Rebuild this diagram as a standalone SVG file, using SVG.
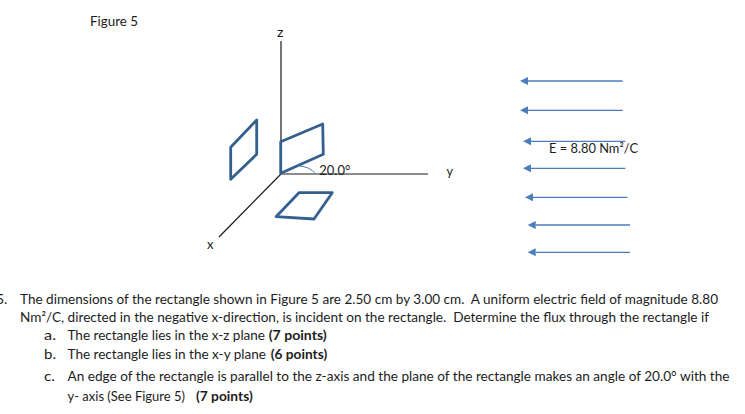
<svg xmlns="http://www.w3.org/2000/svg" width="745" height="414" viewBox="0 0 745 414">
<style>
text{font-family:"Lato","Liberation Sans",sans-serif;font-size:14px;fill:#1c1c1c;white-space:pre}
.b{font-weight:700}
.axis{stroke:#1a1a1a;stroke-width:1.2;fill:none}
.rect{stroke:#34608f;stroke-width:2.8;fill:none;stroke-linejoin:round}
.field{stroke:#4a7ebb;stroke-width:1.3;fill:none}
.head{fill:#4a7ebb;stroke:none}
</style>
<rect width="745" height="414" fill="#fff"/>
<g id="figure-label"><text x="90" y="26" textLength="48" lengthAdjust="spacingAndGlyphs">Figure 5</text></g>
<g id="axes">
<path class="axis" d="M281 41V174H428M281 174L219 237"/>
<text x="277" y="37" textLength="6.500" lengthAdjust="spacingAndGlyphs">z</text>
<text x="446.500" y="176" textLength="6.500" lengthAdjust="spacingAndGlyphs">y</text>
<text x="207" y="249" textLength="6.500" lengthAdjust="spacingAndGlyphs">x</text>
</g>
<g id="rectangle-xz"><path class="rect" d="M230.700 147.300L256.700 120V154.300L230.700 179.300Z"/></g>
<g id="rectangle-angled"><path class="rect" d="M280.700 141.700L322.700 124L323.300 154.300L280.700 173.300Z"/></g>
<g id="rectangle-xy"><path class="rect" d="M299 192.700H332.300L314 219L276 216.700Z"/></g>
<g id="angle">
<path d="M298 165.700Q311 167 315 173.500" fill="none" stroke="#4a7ebb" stroke-width="1"/>
<text x="319.300" y="174.500" textLength="31" lengthAdjust="spacingAndGlyphs">20.0°</text>
</g>
<g id="field-arrows">
<path class="field" d="M622.700 81H528"/><path class="head" d="M520 81L528 77V85Z"/>
<path class="field" d="M622.700 110.300H528"/><path class="head" d="M520 110.300L528 106.300V114.300Z"/>
<path class="field" d="M625.300 141.300H531"/><path class="head" d="M523 141.300L531 137.300V145.300Z"/>
<path class="field" d="M625.300 168.300H531"/><path class="head" d="M523 168.300L531 164.300V172.300Z"/>
<path class="field" d="M627.300 197.300H533"/><path class="head" d="M525 197.300L533 193.300V201.300Z"/>
<path class="field" d="M630 225H535.700"/><path class="head" d="M527.700 225L535.700 221V229Z"/>
<path class="field" d="M630 252.300H535.700"/><path class="head" d="M527.700 252.300L535.700 248.300V256.300Z"/>
</g>
<g id="field-label"><text x="549" y="153" textLength="89" lengthAdjust="spacingAndGlyphs">E = 8.80 Nm²/C</text></g>
<g id="question">
<text x="-4" y="304">5.</text>
<text x="20" y="304" textLength="698" lengthAdjust="spacingAndGlyphs">The dimensions of the rectangle shown in Figure 5 are 2.50 cm by 3.00 cm.  A uniform electric field of magnitude 8.80</text>
<text x="20" y="322" textLength="689" lengthAdjust="spacingAndGlyphs">Nm²/C, directed in the negative x-direction, is incident on the rectangle.  Determine the flux through the rectangle if</text>
<text x="44" y="340" textLength="12" lengthAdjust="spacingAndGlyphs">a.</text>
<text x="67.500" y="340" textLength="197.500" lengthAdjust="spacingAndGlyphs">The rectangle lies in the x-z plane</text>
<text class="b" x="268.700" y="340" textLength="58" lengthAdjust="spacingAndGlyphs">(7 points)</text>
<text x="44" y="359" textLength="12" lengthAdjust="spacingAndGlyphs">b.</text>
<text x="67.500" y="359" textLength="198.500" lengthAdjust="spacingAndGlyphs">The rectangle lies in the x-y plane</text>
<text class="b" x="270.700" y="359" textLength="56.500" lengthAdjust="spacingAndGlyphs">(6 points)</text>
<text x="44" y="381" textLength="11" lengthAdjust="spacingAndGlyphs">c.</text>
<text x="67.500" y="381" textLength="662" lengthAdjust="spacingAndGlyphs">An edge of the rectangle is parallel to the z-axis and the plane of the rectangle makes an angle of 20.0° with the</text>
<text x="67.500" y="401" textLength="117.500" lengthAdjust="spacingAndGlyphs">y- axis (See Figure 5)</text>
<text class="b" x="196" y="401" textLength="56.700" lengthAdjust="spacingAndGlyphs">(7 points)</text>
</g>
</svg>
